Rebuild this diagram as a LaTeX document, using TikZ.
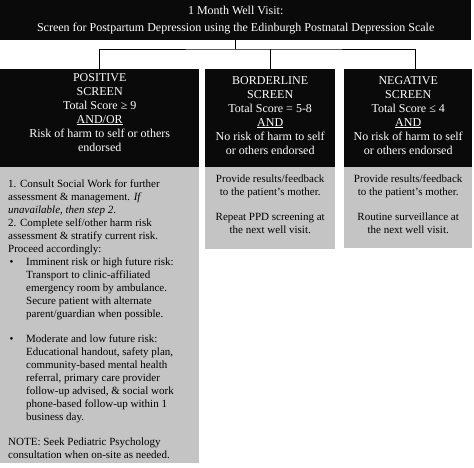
\documentclass[tikz,border=0pt]{standalone}
\usepackage{fontspec}
\setmainfont{Liberation Serif}
\definecolor{boxblack}{RGB}{10,10,10}
\definecolor{boxgray}{RGB}{196,196,196}
\newcommand{\bul}{\makebox[18pt][l]{\hspace{1.5pt}\textbullet}}
\tikzset{
  hdr/.style={fill=boxblack, text=white, inner sep=0pt, anchor=north west},
  body/.style={fill=boxgray, text=black, inner sep=0pt, anchor=north west},
  conn/.style={draw=black, line width=0.8pt},
}
\begin{document}
\begin{tikzpicture}[x=1pt,y=1pt]
\useasboundingbox (0,0) rectangle (474,-467);
% top box
\node[hdr, minimum width=471pt, minimum height=40pt, align=center,
      font=\fontsize{12}{17}\selectfont] (top) at (0,0)
  {1 Month Well Visit:\\Screen for Postpartum Depression using the Edinburgh Postnatal Depression Scale};
% headers
\node[hdr] (pos) at (0,-69) {\parbox[c][98pt][t]{199pt}{\fontsize{12}{14}\selectfont\centering\vspace*{4pt}%
  POSITIVE\\SCREEN\\Total Score ≥ 9\\\underline{AND/OR}\\Risk of harm to self or others\\endorsed}};
\node[hdr] (bord) at (205,-69) {\parbox[c][98pt][t]{130pt}{\fontsize{12}{14}\selectfont\centering\vspace*{7pt}%
  BORDERLINE\\SCREEN\\Total Score = 5-8\\\underline{AND}\\No risk of harm to self\\or others endorsed}};
\node[hdr] (neg) at (344,-69) {\parbox[c][98pt][t]{128pt}{\fontsize{12}{14}\selectfont\centering\vspace*{7pt}%
  NEGATIVE\\SCREEN\\Total Score ≤ 4\\\underline{AND}\\No risk of harm to self\\or others endorsed}};
% bodies
\node[body] (posg) at (0,-167) {\parbox[c][296pt][t]{199pt}{\fontsize{11}{13}\selectfont
  \leftskip=8pt\rightskip=0pt plus 1fil\parindent=0pt\vspace*{12.5pt}%
  1. Consult Social Work for further\\
  assessment \& management. \textit{If}\\
  \textit{unavailable, then step 2}.\\
  2. Complete self/other harm risk\\
  assessment \& stratify current risk.\\
  Proceed accordingly:\\
  \bul Imminent risk or high future risk:\\
  \hspace*{18pt}Transport to clinic-affiliated\\
  \hspace*{18pt}emergency room by ambulance.\\
  \hspace*{18pt}Secure patient with alternate\\
  \hspace*{18pt}parent/guardian when possible.\\[12pt]
  \bul Moderate and low future risk:\\
  \hspace*{18pt}Educational handout, safety plan,\\
  \hspace*{18pt}community-based mental health\\
  \hspace*{18pt}referral, primary care provider\\
  \hspace*{18pt}follow-up advised, \& social work\\
  \hspace*{18pt}phone-based follow-up within 1\\
  \hspace*{18pt}business day.\\[12pt]
  NOTE: Seek Pediatric Psychology\\
  consultation when on-site as needed.}};
\node[body] (bordg) at (205,-167) {\parbox[c][82pt][t]{130pt}{\fontsize{11}{13}\selectfont\centering\vspace*{7.5pt}%
  Provide results/feedback\\to the patient’s mother.\\[12pt]Repeat PPD screening at\\the next well visit.}};
\node[body] (negg) at (344,-167) {\parbox[c][81pt][t]{128pt}{\fontsize{11}{13}\selectfont\centering\vspace*{7.5pt}%
  Provide results/feedback\\to the patient’s mother.\\[12pt]Routine surveillance at\\the next well visit.}};
% connectors
\coordinate (bus) at (0,-49);
\draw[conn] (top.south) -- (top.south |- bus);
\draw[conn] (pos.north) |- (bord.north |- bus) -| ([xshift=71pt]neg.north west);
\draw[conn] (bord.north) -- (bord.north |- bus);
\end{tikzpicture}
\end{document}
